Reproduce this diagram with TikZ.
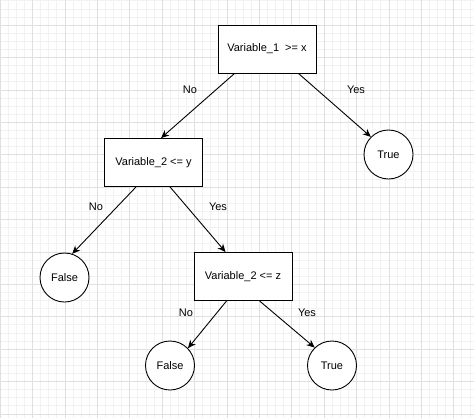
\documentclass[tikz,border=0pt]{standalone}
\usepackage{fontspec}
\setmainfont{Liberation Sans}
\usetikzlibrary{arrows.meta}
\tikzset{
  kasten/.style={draw, line width=0.9pt, fill=white, minimum width=98pt, minimum height=48pt, inner sep=0pt, font=\fontsize{11}{13}\selectfont},
  blatt/.style={draw, circle, line width=0.9pt, fill=white, minimum size=49pt, inner sep=0pt, font=\fontsize{11}{13}\selectfont},
  pfeil/.style={line width=0.9pt, -{Stealth[length=8pt,width=7pt,inset=2.5pt]}},
  marke/.style={inner sep=0pt, font=\fontsize{11}{13}\selectfont},
  feinlinie/.style={draw=black!5, line width=0.5pt},
  groblinie/.style={draw=black!12, line width=0.6pt}
}
\begin{document}
\begin{tikzpicture}[x=1pt,y=-1pt]
\useasboundingbox (0,0) rectangle (474,418);
% Hintergrundraster:
\fill[white] (0,0) rectangle (474,418);
\foreach \i in {0,...,59} \draw[feinlinie] (\i*8.1,0) -- (\i*8.1,418);
\foreach \i in {0,...,52} \draw[feinlinie] (0,0.7+\i*8.1) -- (474,0.7+\i*8.1);
\foreach \i in {0,...,14} \draw[groblinie] (\i*32.4,0) -- (\i*32.4,418);
\foreach \i in {0,...,12} \draw[groblinie] (0,25+\i*32.4) -- (474,25+\i*32.4);
% Entscheidungen:
\node[kasten] (v1) at (267,49) {Variable\_1\ \ >= x};
\node[kasten] (v2) at (153.5,162.5) {Variable\_2 <= y};
\node[kasten] (v3) at (243,276.5) {Variable\_2 <= z};
% Blaetter:
\node[blatt] (t1) at (388.5,154.5) {True};
\node[blatt] (f1) at (64.5,277.5) {False};
\node[blatt] (f2) at (170,365.5) {False};
\node[blatt] (t2) at (332,365.5) {True};
% Kanten:
\draw[pfeil] ([xshift=17pt]v1.south west) -- ([xshift=57pt]v2.north west);
\draw[pfeil] ([xshift=-18pt]v1.south east) -- (t1.135);
\draw[pfeil] ([xshift=32pt]v2.south west) -- (f1.72);
\draw[pfeil] ([xshift=66pt]v2.south west) -- ([xshift=32pt]v3.north west);
\draw[pfeil] ([xshift=33pt]v3.south west) -- (f2.44);
\draw[pfeil] ([xshift=66pt]v3.south west) -- (t2.134);
% Beschriftungen:
\node[marke] (n1) at (190,90) {No};
\node[marke] (y1) at (356,90) {Yes};
\node[marke] (n2) at (96,207) {No};
\node[marke] (y2) at (218,207) {Yes};
\node[marke] (n3) at (186,313) {No};
\node[marke] (y3) at (307,313) {Yes};
\end{tikzpicture}
\end{document}
